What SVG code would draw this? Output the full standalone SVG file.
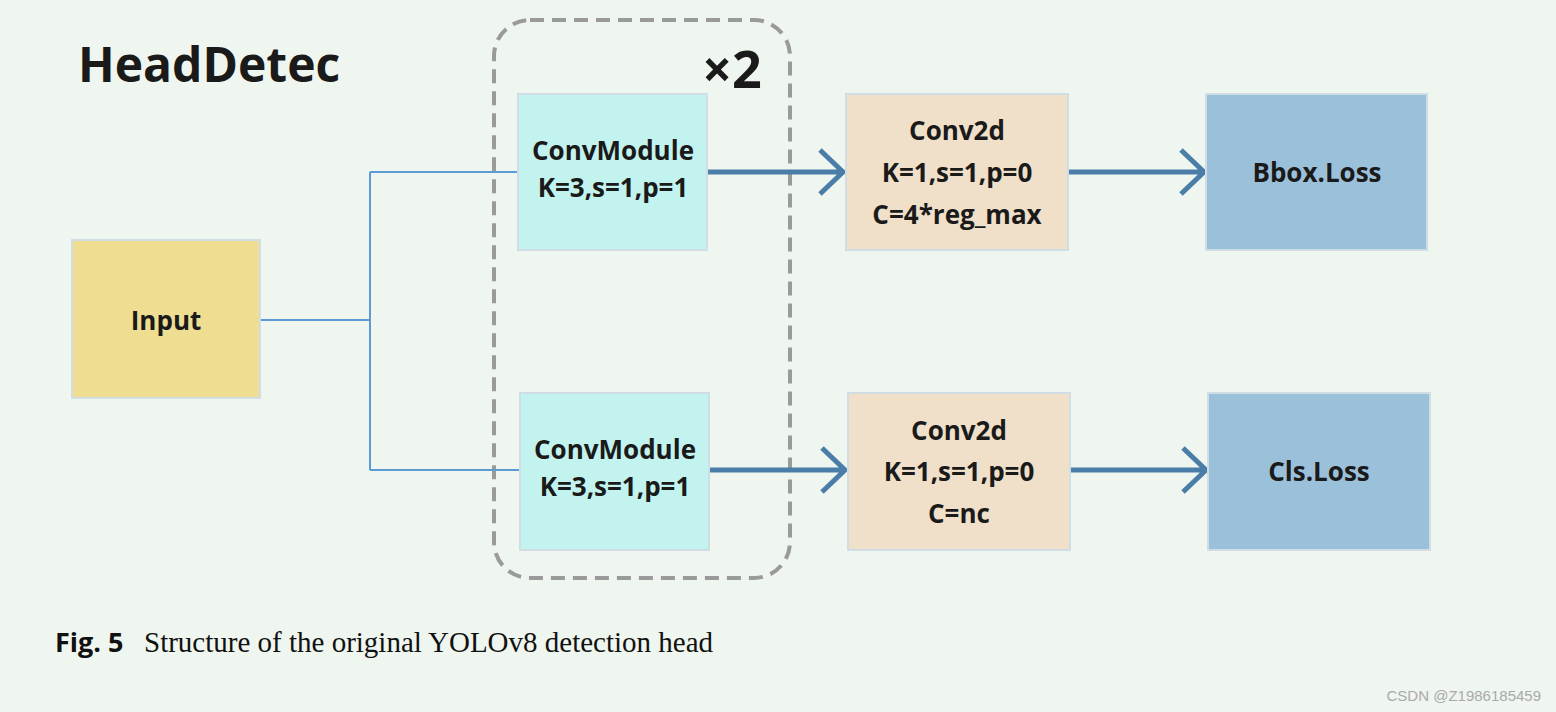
<svg xmlns="http://www.w3.org/2000/svg" width="1556" height="712" viewBox="0 0 1556 712">
<style>
.t{font-family:"Open Sans","Liberation Sans",sans-serif;font-weight:bold;fill:#1a1a1a;text-anchor:middle}
.box{stroke:#d0dde4;stroke-width:2}
.thin{stroke:#5b9bd5;stroke-width:2;fill:none}
.thick{stroke:#4a7ea8;stroke-width:5;fill:none}
</style>
<rect width="1556" height="712" fill="#eff5ef"/>
<text x="78" y="82" font-family="Open Sans, Liberation Sans, sans-serif" font-weight="bold" font-size="48" fill="#1a1a1a">HeadDetec</text>
<rect x="494" y="20" width="296" height="558" rx="36" fill="none" stroke="#9a9a9a" stroke-width="4" stroke-dasharray="14 8"/>
<text x="732" y="88" class="t" font-size="52">×2</text>
<g id="connectors">
<path class="thin" d="M260 320H370M370 172V470M370 172H518M370 470H520"/>
<path class="thick" d="M707 172H843M820 150L843 172L820 194"/>
<path class="thick" d="M709 470H845M822 448L845 470L822 492"/>
<path class="thick" d="M1068 172H1204M1181 150L1204 172L1181 194"/>
<path class="thick" d="M1070 470H1206M1183 448L1206 470L1183 492"/>
</g>
<g id="input"><rect class="box" x="72" y="240" width="188" height="158" fill="#efde92"/><text class="t" x="166" y="330" font-size="26">Input</text></g>
<g id="conv1"><rect class="box" x="518" y="94" width="189" height="156" fill="#c2f3ef"/><text class="t" x="613" y="160" font-size="26">ConvModule</text><text class="t" x="613" y="197" font-size="26">K=3,s=1,p=1</text></g>
<g id="conv2"><rect class="box" x="520" y="393" width="189" height="157" fill="#c2f3ef"/><text class="t" x="615" y="459" font-size="26">ConvModule</text><text class="t" x="615" y="496" font-size="26">K=3,s=1,p=1</text></g>
<g id="c2d1"><rect class="box" x="846" y="94" width="222" height="156" fill="#f0dfc9"/><text class="t" x="957" y="140" font-size="26">Conv2d</text><text class="t" x="957" y="182" font-size="26">K=1,s=1,p=0</text><text class="t" x="957" y="224" font-size="26">C=4*reg_max</text></g>
<g id="c2d2"><rect class="box" x="848" y="393" width="222" height="157" fill="#f0dfc9"/><text class="t" x="959" y="440" font-size="26">Conv2d</text><text class="t" x="959" y="481" font-size="26">K=1,s=1,p=0</text><text class="t" x="959" y="523" font-size="26">C=nc</text></g>
<g id="bbox"><rect class="box" x="1206" y="94" width="221" height="156" fill="#9ac0da"/><text class="t" x="1317" y="182" font-size="26">Bbox.Loss</text></g>
<g id="cls"><rect class="box" x="1208" y="393" width="222" height="157" fill="#9ac0da"/><text class="t" x="1319" y="481" font-size="26">Cls.Loss</text></g>
<text x="55" y="652" font-family="Open Sans, Liberation Sans, sans-serif" font-weight="bold" font-size="27" fill="#111">Fig. 5</text>
<text x="144" y="652" font-family="Liberation Serif, serif" font-size="29" fill="#111">Structure of the original YOLOv8 detection head</text>
<text x="1541" y="701" font-family="Liberation Sans, sans-serif" font-size="15" fill="#aaaaaa" text-anchor="end">CSDN @Z1986185459</text>
</svg>
